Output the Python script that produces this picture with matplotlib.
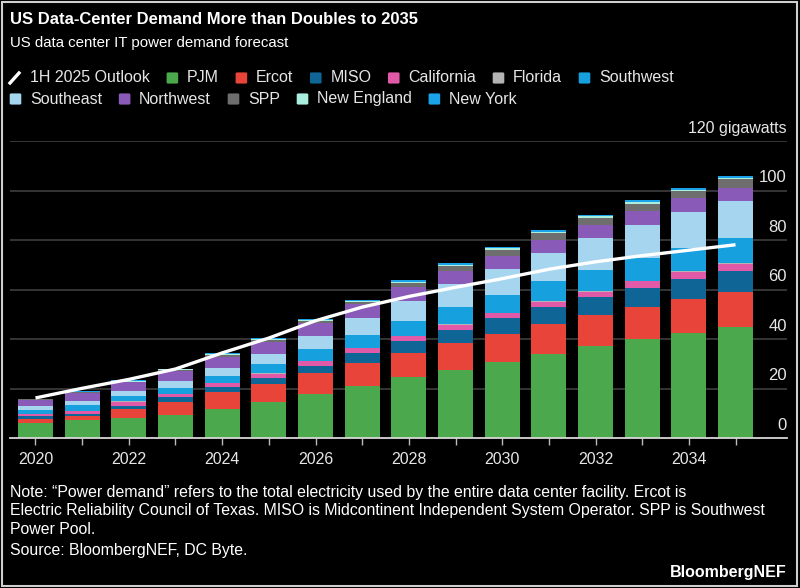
import numpy as np
import matplotlib
matplotlib.use('Agg')
import matplotlib.pyplot as plt
from matplotlib import font_manager
from matplotlib.patches import Rectangle, FancyBboxPatch
from matplotlib.lines import Line2D

########################################################################
# data (gigawatts)
years = list(range(2020, 2036))

pjm        = [6.2, 7.3, 8.1, 9.3, 11.8, 14.7, 17.8, 21.1, 24.6, 27.7, 30.8, 34.1, 37.3, 40.0, 42.5, 45.0]
ercot      = [1.7, 1.7, 3.7, 5.4, 6.9, 7.2, 8.4, 9.5, 10.0, 10.7, 11.5, 12.1, 12.5, 13.2, 13.9, 14.2]
miso       = [1.0, 1.0, 1.4, 1.9, 2.0, 2.6, 3.0, 3.7, 4.7, 5.3, 6.2, 6.7, 7.1, 7.6, 8.1, 8.5]
california = [0.8, 1.0, 1.5, 1.2, 1.6, 1.6, 1.9, 2.0, 2.0, 2.2, 2.0, 2.3, 2.3, 2.7, 2.7, 2.8]
florida    = [0.2, 0.2, 0.2, 0.2, 0.2, 0.2, 0.2, 0.2, 0.2, 0.2, 0.2, 0.2, 0.2, 0.2, 0.2, 0.2]
southwest  = [1.5, 2.1, 2.2, 2.5, 2.7, 3.7, 4.6, 5.1, 6.0, 6.8, 7.3, 8.1, 8.7, 9.0, 9.6, 10.1]
southeast  = [1.8, 1.9, 2.0, 2.5, 3.1, 4.2, 5.4, 6.9, 8.1, 9.4, 10.5, 11.3, 12.7, 13.6, 14.4, 15.2]
northwest  = [2.3, 3.1, 3.5, 4.2, 4.4, 4.8, 5.4, 5.6, 5.4, 5.1, 5.3, 5.3, 5.3, 5.5, 5.5, 5.2]
spp        = [0.2, 0.3, 0.3, 0.4, 0.9, 0.7, 0.7, 0.9, 1.6, 2.2, 2.2, 2.7, 3.1, 3.0, 3.0, 3.4]
new_england = [0.1, 0.2, 0.2, 0.2, 0.3, 0.4, 0.4, 0.6, 0.5, 0.5, 0.7, 0.6, 0.6, 0.5, 0.5, 0.6]
new_york   = [0.2, 0.3, 0.3, 0.3, 0.4, 0.4, 0.4, 0.4, 0.7, 0.6, 0.7, 0.7, 0.6, 0.8, 0.8, 0.9]

outlook = [16.3, 20.2, 23.8, 28.0, 34.5, 40.5, 47.5, 53.0, 57.3, 61.0, 64.5, 68.3, 71.3, 73.8, 76.0, 78.2]

regions = ['PJM', 'Ercot', 'MISO', 'California', 'Florida', 'Southwest',
           'Southeast', 'Northwest', 'SPP', 'New England', 'New York']
series = [pjm, ercot, miso, california, florida, southwest,
          southeast, northwest, spp, new_england, new_york]
colors = ['#4ba84d', '#e8443a', '#0e6596', '#e05aa8', '#b4b4b4', '#17a0de',
          '#a6d6ef', '#8a5ab8', '#6e6e6e', '#aaeedd', '#1aa3e8']

yticks = [0, 20, 40, 60, 80, 100, 120]

title = 'US Data-Center Demand More than Doubles to 2035'
subtitle = 'US data center IT power demand forecast'
note_lines = ['Note: \u201cPower demand\u201d refers to the total electricity used by the entire data center facility. Ercot is',
              'Electric Reliability Council of Texas. MISO is Midcontinent Independent System Operator. SPP is Southwest',
              'Power Pool.']
source = 'Source: BloombergNEF, DC Byte.'

########################################################################
# font: narrow sans if there is one
names = {f.name for f in font_manager.fontManager.ttflist}
fam = 'DejaVu Sans'
for cand in ['Liberation Sans Narrow', 'Liberation Sans']:
    if cand in names:
        fam = cand
        break
plt.rcParams['font.family'] = [fam, 'DejaVu Sans']

W, H = 800, 588
fig = plt.figure(figsize=(W / 100, H / 100), dpi=100)
fig.patch.set_facecolor('black')


def px(x, y):
    # pixel position (from top-left) to figure fraction
    return x / W, 1 - y / H


# frame round the picture
fig.patches.append(Rectangle((0.002, 0.003), 0.994, 0.994, transform=fig.transFigure,
                             fill=False, edgecolor='#cfcfcf', lw=1.5))

########################################################################
# axes
ax = fig.add_axes([10 / W, 1 - 438.3 / H, 777 / W, 297 / H])
ax.set_facecolor('black')
ax.set_xlim(2020 - 25.5 / 46.67, 2035 + 51.5 / 46.67)
ax.set_ylim(0, 120)
for s in ax.spines.values():
    s.set_visible(False)

for v in yticks[1:]:
    ax.axhline(v, color='#3e3e3e', lw=1.2, zorder=0)
ax.axhline(0, color='#d8d8d8', lw=1.3, zorder=3, clip_on=False)

bottom = np.zeros(len(years))
for vals, c in zip(series, colors):
    ax.bar(years, vals, width=0.75, bottom=bottom, color=c, edgecolor='none', zorder=2)
    bottom += np.array(vals)

ax.plot(years, outlook, color='white', lw=2.4, zorder=4, solid_capstyle='butt')

ax.set_xticks(years)
ax.set_xticklabels([str(y) if y % 2 == 0 else '' for y in years])
ax.tick_params(axis='x', length=5, width=1, color='#bbbbbb', labelcolor='#e6e6e6',
               labelsize=11.5, pad=5)
ax.set_yticks([])

for v in yticks:
    lab = '120 gigawatts' if v == 120 else str(v)
    ax.annotate(lab, xy=(1, v), xycoords=('axes fraction', 'data'), xytext=(0, 9.5),
                textcoords='offset points', ha='right', va='center',
                color='#e6e6e6', fontsize=12 if v < 120 else 11.5)

########################################################################
# titles
fig.text(*px(10, 19), title, color='white', fontsize=12, fontweight='bold', va='center')
fig.text(*px(10, 43), subtitle, color='white', fontsize=10.8, va='center')

# legend, drawn by hand in two rows
renderer = fig.canvas.get_renderer()
rows = [[('line', '1H 2025 Outlook', 'white')] + [('box', r, c) for r, c in zip(regions[:6], colors[:6])],
        [('box', r, c) for r, c in zip(regions[6:], colors[6:])]]
row_y = [78, 99]
for items, yy in zip(rows, row_y):
    x = 10
    for kind, lab, c in items:
        if kind == 'line':
            fig.lines.append(Line2D([x / W, (x + 9) / W], [1 - (yy + 5) / H, 1 - (yy - 5) / H],
                                    transform=fig.transFigure, color=c, lw=2.4))
        else:
            fig.patches.append(FancyBboxPatch(((x + 0.5) / W, 1 - (yy + 5) / H), 10 / W, 10 / H,
                                              boxstyle='round,pad=0.001,rounding_size=0.002',
                                              transform=fig.transFigure, facecolor=c, edgecolor='none'))
        t = fig.text(*px(x + 20, yy), lab, color='#e6e6e6', fontsize=11.5, va='center')
        w = t.get_window_extent(renderer).width
        x = x + 20 + w + 17

# notes
for i, line in enumerate(note_lines):
    fig.text(*px(10, 492 + 19 * i), line, color='white', fontsize=11.4, va='center')
fig.text(*px(10, 550), source, color='white', fontsize=11.4, va='center')
fig.text(*px(787, 573), 'BloombergNEF', color='white', fontsize=11.5, fontweight='bold',
         va='center', ha='right')

fig.savefig('out.png', dpi=100, facecolor=fig.get_facecolor())
